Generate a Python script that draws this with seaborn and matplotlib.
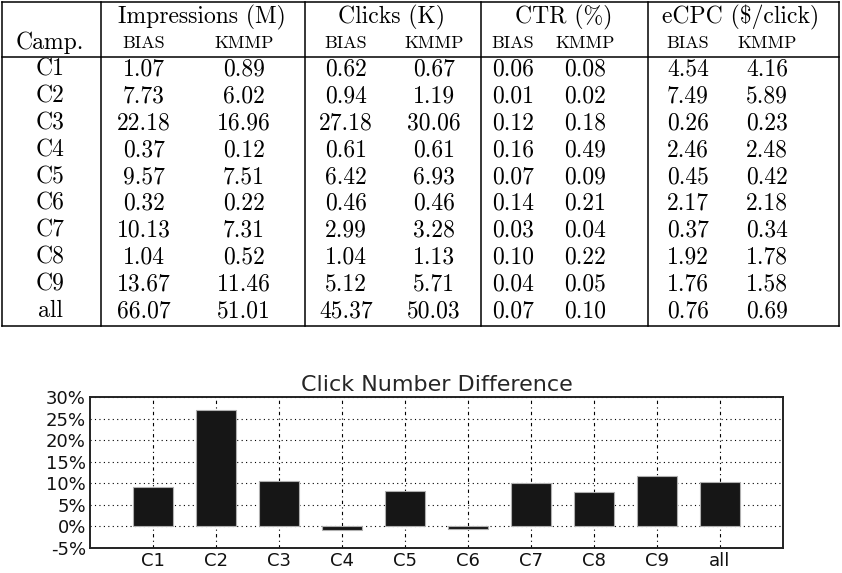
import matplotlib
matplotlib.use("Agg")
import matplotlib.pyplot as plt
from matplotlib.ticker import FuncFormatter
import pandas as pd
import seaborn as sns

# table data
campaigns = ["C1", "C2", "C3", "C4", "C5", "C6", "C7", "C8", "C9", "all"]
impr_bias = ["1.07", "7.73", "22.18", "0.37", "9.57", "0.32", "10.13", "1.04", "13.67", "66.07"]
impr_kmmp = ["0.89", "6.02", "16.96", "0.12", "7.51", "0.22", "7.31", "0.52", "11.46", "51.01"]
clicks_bias = ["0.62", "0.94", "27.18", "0.61", "6.42", "0.46", "2.99", "1.04", "5.12", "45.37"]
clicks_kmmp = ["0.67", "1.19", "30.06", "0.61", "6.93", "0.46", "3.28", "1.13", "5.71", "50.03"]
ctr_bias = ["0.06", "0.01", "0.12", "0.16", "0.07", "0.14", "0.03", "0.10", "0.04", "0.07"]
ctr_kmmp = ["0.08", "0.02", "0.18", "0.49", "0.09", "0.21", "0.04", "0.22", "0.05", "0.10"]
ecpc_bias = ["4.54", "7.49", "0.26", "2.46", "0.45", "2.17", "0.37", "1.92", "1.76", "0.76"]
ecpc_kmmp = ["4.16", "5.89", "0.23", "2.48", "0.42", "2.18", "0.34", "1.78", "1.58", "0.69"]
groups = ["Impressions (M)", "Clicks (K)", "CTR (%)", "eCPC ($/click)"]

# bar chart data (percent)
click_diff = [9.2, 27.1, 10.6, -0.9, 8.1, -0.5, 10.0, 7.9, 11.6, 10.4]
y_ticks = [-5, 0, 5, 10, 15, 20, 25, 30]

W, H = 842, 573
fig = plt.figure(figsize=(W / 100, H / 100), dpi=100)

# ---- table drawn in pixel coordinates
tab_h = 330
tax = fig.add_axes([0, 1 - tab_h / H, 1, tab_h / H])
tax.set_xlim(0, W)
tax.set_ylim(tab_h, 0)
tax.axis("off")

serif = "cmr10"
big = 17
small = 13
lc = "black"
lw = 1.1

# lines
for y in (1.5, 57, 325.5):
    tax.plot([2, 839], [y, y], color=lc, lw=lw, clip_on=False)
for x in (2, 101, 304.5, 481, 648, 839):
    tax.plot([x, x], [1.5, 325.5], color=lc, lw=lw, clip_on=False)

col_x = [50, 144, 244, 346, 434, 513, 585, 688, 767]
group_x = [202, 392, 564, 741]

for gx, g in zip(group_x, groups):
    tax.text(gx, 23, g, ha="center", va="baseline", family=serif, fontsize=big)
tax.text(col_x[0], 48.5, "Camp.", ha="center", va="baseline", family=serif, fontsize=big)
for cx, sub in zip(col_x[1:], ["BIAS", "KMMP"] * 4):
    tax.text(cx, 47.5, sub, ha="center", va="baseline", family=serif, fontsize=small)

cols = [campaigns, impr_bias, impr_kmmp, clicks_bias, clicks_kmmp,
        ctr_bias, ctr_kmmp, ecpc_bias, ecpc_kmmp]
for cx, vals in zip(col_x, cols):
    for i, v in enumerate(vals):
        tax.text(cx, 76 + i * 26.8, v, ha="center", va="baseline",
                 family=serif, fontsize=big)

# ---- bar chart
sns.set_style("white")
ax = fig.add_axes([90 / W, (H - 548) / H, (783 - 90) / W, (548 - 397) / H])
df = pd.DataFrame({"camp": campaigns, "diff": click_diff})
sns.barplot(data=df, x="camp", y="diff", color="#161616", saturation=1,
            width=0.62, edgecolor="#b0b0b0", linewidth=0.8, ax=ax)
ax.set_xlim(-1, 10)
ax.set_ylim(-5, 30)
ax.set_yticks(y_ticks)
ax.yaxis.set_major_formatter(FuncFormatter(lambda v, p: f"{int(v)}%"))
ax.set_xlabel("")
ax.set_ylabel("")
ax.set_axisbelow(True)
ax.yaxis.grid(True, color="black", linestyle=(0, (1, 3)), linewidth=0.8)
ax.xaxis.grid(True, color="black", linestyle=(0, (3, 3, 1, 3)), linewidth=0.8)
for s in ax.spines.values():
    s.set_color("#222222")
    s.set_linewidth(1.4)
ax.tick_params(length=0, labelsize=13, pad=3, colors="#111111")
ax.set_title("Click Number Difference", fontsize=16, pad=4)

fig.savefig("out.png", dpi=100)
